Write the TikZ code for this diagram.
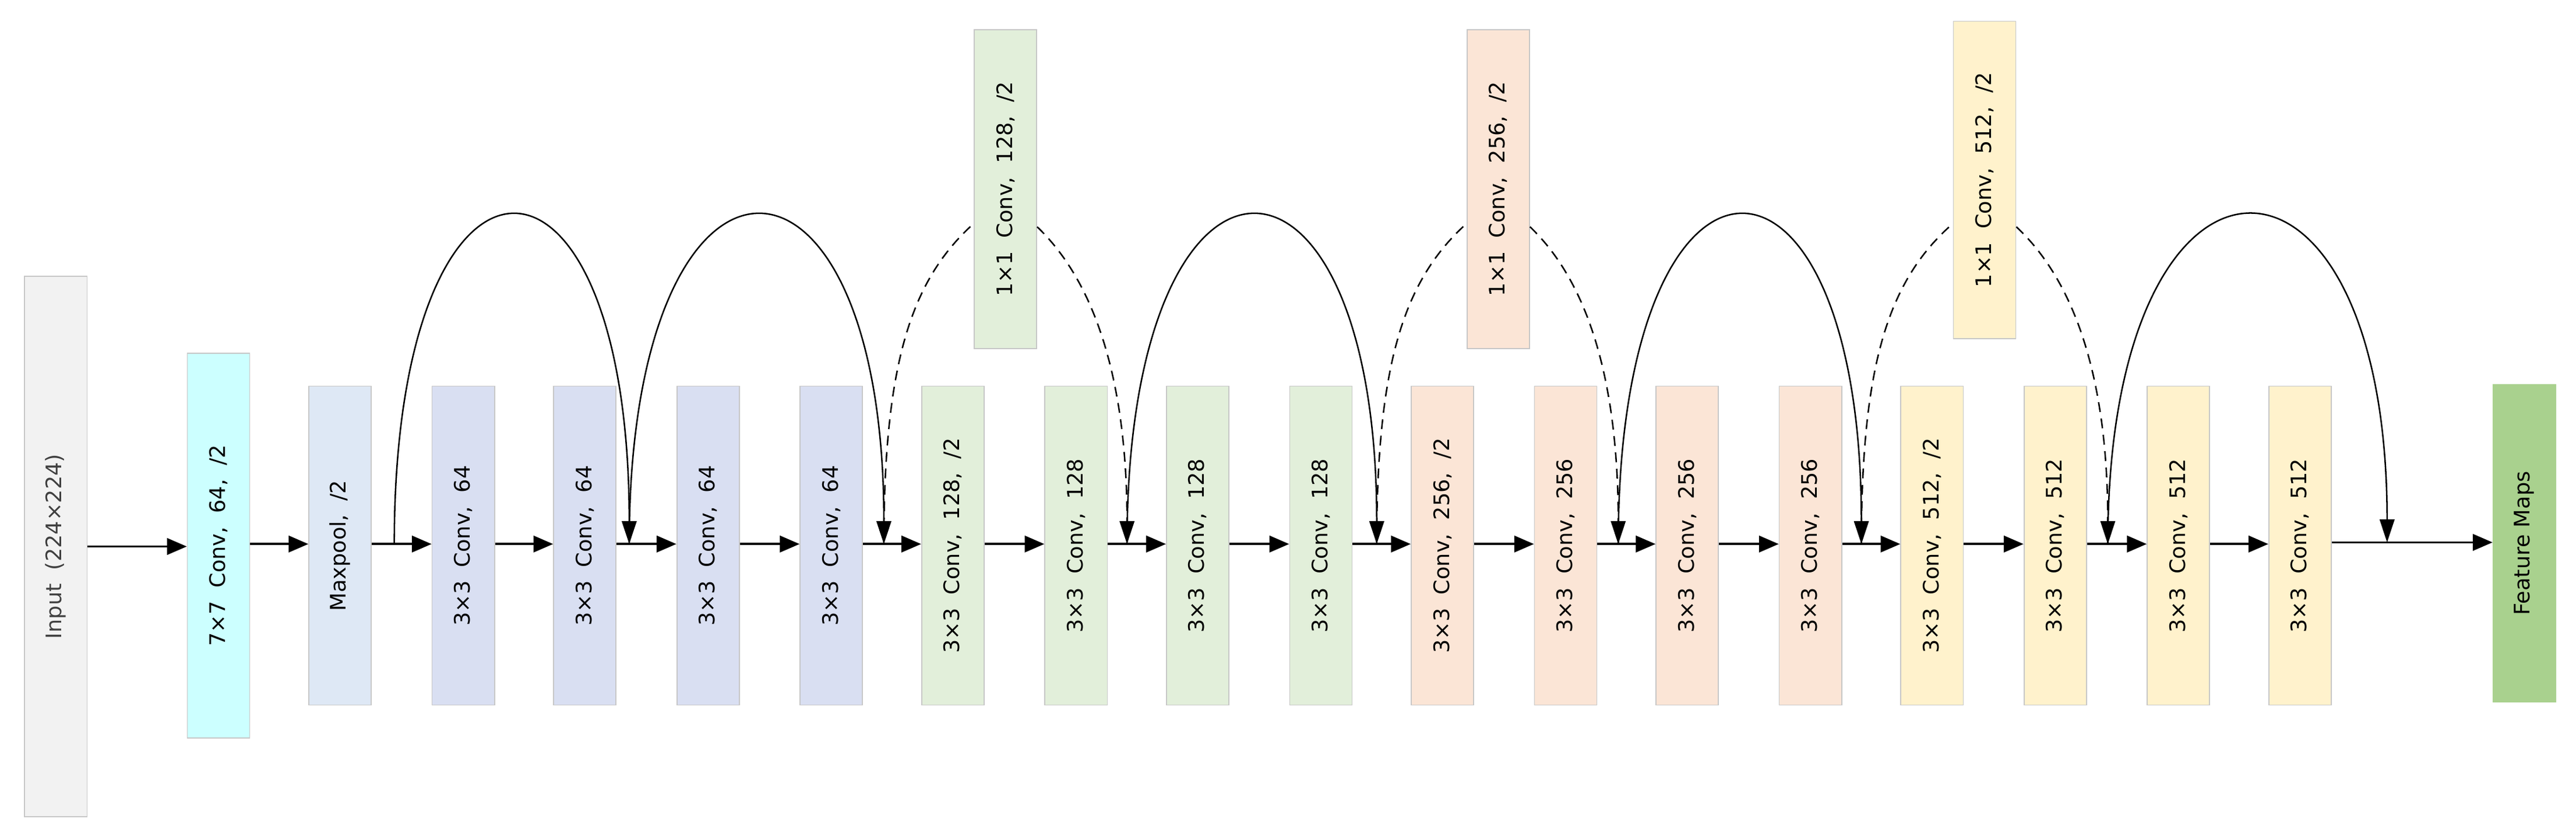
\documentclass[tikz,border=0pt]{standalone}
\usepackage{fontspec}
\setmainfont{DejaVu Sans}
\usetikzlibrary{arrows.meta}
\begin{document}
\begin{tikzpicture}[x=1pt,y=-1pt,
  blk/.style={draw=black!22,line width=0.6pt,inner sep=0pt,minimum width=38pt,font=\fontsize{13}{15}\selectfont},
  arr/.style={line width=1.3pt,-{Triangle[length=12pt,width=10pt]}},
  skip/.style={line width=0.9pt,-{Triangle[length=14pt,width=9pt]}},
  dskip/.style={skip,dash pattern=on 6pt off 4pt}]
\useasboundingbox (0,0) rectangle (1568,511);
\definecolor{cin}{HTML}{F2F2F2}\definecolor{ccy}{HTML}{CCFFFF}
\definecolor{cmp}{HTML}{DEE8F5}\definecolor{cb}{HTML}{D9DFF2}
\definecolor{cg}{HTML}{E2EFDA}\definecolor{co}{HTML}{FBE5D6}
\definecolor{cy}{HTML}{FFF2CC}\definecolor{cfm}{HTML}{A9D18E}
\node[blk,fill=cin,minimum height=329pt,text=black!75] (in) at (34,332.5) {\rotatebox{90}{Input~~(224×224)}};
\node[blk,fill=ccy,minimum height=234pt] (c7) at (133,332) {\rotatebox{90}{7×7~~Conv,~~64,~~/2}};
\node[blk,fill=cmp,minimum height=194pt] (mp) at (207,332) {\rotatebox{90}{Maxpool,~~/2}};
\foreach \n/\x/\c/\t in {b1/282/cb/{3×3~~Conv,~~64},b2/356/cb/{3×3~~Conv,~~64},b3/431/cb/{3×3~~Conv,~~64},b4/506/cb/{3×3~~Conv,~~64},
  b5/580/cg/{3×3~~Conv,~~128,~~/2},b6/655/cg/{3×3~~Conv,~~128},b7/729/cg/{3×3~~Conv,~~128},b8/804/cg/{3×3~~Conv,~~128},
  b9/878/co/{3×3~~Conv,~~256,~~/2},b10/953/co/{3×3~~Conv,~~256},b11/1027/co/{3×3~~Conv,~~256},b12/1102/co/{3×3~~Conv,~~256},
  b13/1176/cy/{3×3~~Conv,~~512,~~/2},b14/1251/cy/{3×3~~Conv,~~512},b15/1326/cy/{3×3~~Conv,~~512},b16/1400/cy/{3×3~~Conv,~~512}}
  {\node[blk,fill=\c,minimum height=194pt] (\n) at (\x,332) {\rotatebox{90}{\t}};}
\node[blk,fill=cfm,minimum height=193pt,draw=cfm] (fm) at (1536.5,330.5) {\rotatebox{90}{Feature Maps}};
\node[blk,fill=cg,minimum height=194pt] (s1) at (612,115) {\rotatebox{90}{1×1~~Conv,~~128,~~/2}};
\node[blk,fill=co,minimum height=194pt] (s2) at (912,115) {\rotatebox{90}{1×1~~Conv,~~256,~~/2}};
\node[blk,fill=cy,minimum height=193pt] (s3) at (1208,109.5) {\rotatebox{90}{1×1~~Conv,~~512,~~/2}};
% main chain
\draw[arr] (in.east) -- (in.east -| c7.west);
\foreach \a/\b in {c7/mp,mp/b1,b1/b2,b2/b3,b3/b4,b4/b5,b5/b6,b6/b7,b7/b8,b8/b9,b9/b10,b10/b11,b11/b12,b12/b13,b13/b14,b14/b15,b15/b16}
  \draw[arr] (\a.east|-0,331) -- (\b.west|-0,331);
\draw[arr] (b16.east|-0,330) -- (fm.west|-0,330);
% junctions
\foreach \n/\x in {j1/240,j2/383,j3/538,j4/686,j5/838,j6/985,j7/1133,j8/1283}
  \coordinate (\n) at (\x,331);
\coordinate (j9) at (1453,330);
% identity skips
\draw[skip] (j1) .. controls (240,65) and (383,65) .. (j2);
\draw[skip] (j2) .. controls (383,65) and (538,65) .. (j3);
\draw[skip] (j4) .. controls (686,65) and (838,65) .. (j5);
\draw[skip] (j6) .. controls (985,65) and (1133,65) .. (j7);
\draw[skip] (j8) .. controls (1283,65) and (1453,65) .. (j9);
% projection skips
\draw[dashed,dash pattern=on 6pt off 4pt,line width=0.9pt] (j3) .. controls (538,220) and (555,170) .. (s1.west|-0,136);
\draw[dskip] (s1.east|-0,138) .. controls (670,175) and (686,240) .. (j4);
\draw[dashed,dash pattern=on 6pt off 4pt,line width=0.9pt] (j5) .. controls (838,220) and (855,170) .. (s2.west|-0,136);
\draw[dskip] (s2.east|-0,138) .. controls (970,175) and (985,240) .. (j6);
\draw[dashed,dash pattern=on 6pt off 4pt,line width=0.9pt] (j7) .. controls (1133,220) and (1150,170) .. (s3.west|-0,136);
\draw[dskip] (s3.east|-0,138) .. controls (1267,175) and (1283,240) .. (j8);
\end{tikzpicture}
\end{document}
